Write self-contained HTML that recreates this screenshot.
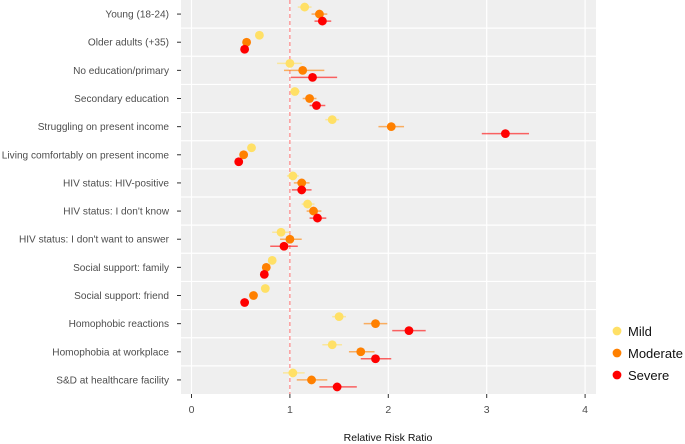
<!DOCTYPE html>
<html><head><meta charset="utf-8"><style>
body{margin:0;background:#fff;font-family:"Liberation Sans",sans-serif}
svg{display:block}
</style></head><body>
<svg id="c" width="685" height="444"></svg>
<script>
const categories=["Young (18-24)","Older adults (+35)","No education/primary","Secondary education","Struggling on present income","Living comfortably on present income","HIV status: HIV-positive","HIV status: I don't know","HIV status: I don't want to answer","Social support: family","Social support: friend","Homophobic reactions","Homophobia at workplace","S&D at healthcare facility"];
const mild=[1.15,0.69,1.0,1.05,1.43,0.61,1.03,1.18,0.91,0.82,0.75,1.50,1.43,1.03];
const mildLo=[1.08,0.69,0.87,1.0,1.36,0.61,0.97,1.12,0.82,0.82,0.75,1.43,1.33,0.93];
const mildHi=[1.22,0.69,1.12,1.1,1.5,0.61,1.09,1.25,1.0,0.82,0.75,1.57,1.53,1.15];
const moderate=[1.30,0.56,1.13,1.2,2.03,0.53,1.12,1.24,1.0,0.76,0.63,1.87,1.72,1.22];
const moderateLo=[1.22,0.56,0.94,1.13,1.9,0.53,1.04,1.17,0.9,0.76,0.63,1.75,1.6,1.07];
const moderateHi=[1.38,0.56,1.35,1.27,2.16,0.53,1.2,1.32,1.12,0.76,0.63,1.99,1.86,1.38];
const severe=[1.33,0.54,1.23,1.27,3.19,0.48,1.12,1.28,0.94,0.74,0.54,2.21,1.87,1.48];
const severeLo=[1.25,0.54,1.01,1.2,2.95,0.48,1.02,1.2,0.8,0.74,0.54,2.04,1.72,1.3];
const severeHi=[1.42,0.54,1.48,1.36,3.43,0.48,1.22,1.37,1.08,0.74,0.54,2.38,2.03,1.68];
const xTicks=[0,1,2,3,4];
const NS="http://www.w3.org/2000/svg";
const svg=document.getElementById('c');
function mk(t,a,p){const e=document.createElementNS(NS,t);for(const k in a)e.setAttribute(k,a[k]);(p||svg).appendChild(e);return e;}
const L=181,R=596,T=0,B=394;
const x=v=>191.5+v*98.4;
const rowH=(B-T)/categories.length;
const y=i=>T+rowH*(i+0.5);
const panel=mk('rect',{x:L,y:T,width:R-L,height:B-T,fill:'#efefef'});


for(let i=1;i<categories.length;i++){const g=mk('line',{x1:L,x2:R,y1:T+rowH*i,y2:T+rowH*i,stroke:'#fff','stroke-width':1.2});

}
xTicks.forEach(t=>{const g=mk('line',{x1:x(t),x2:x(t),y1:T,y2:B,stroke:'#fff','stroke-width':1.2});


const tk=mk('line',{x1:x(t),x2:x(t),y1:B,y2:B+4,stroke:'#333'});


const tl=mk('text',{x:x(t),y:B+19,'text-anchor':'middle','font-size':10.5,fill:'#4d4d4d'});tl.textContent=t;

});
const ref=mk('line',{x1:x(1),x2:x(1),y1:T,y2:B,stroke:'#ff7070','stroke-dasharray':'4,3','stroke-width':1});


categories.forEach((c,i)=>{const tk=mk('line',{x1:L-4,x2:L,y1:y(i),y2:y(i),stroke:'#333'});


const tl=mk('text',{x:L-12,y:y(i)+3.5,'text-anchor':'end','font-size':10.1,fill:'#4d4d4d'});tl.textContent=c;

});
const series=[[mild,mildLo,mildHi,'#ffe066',-7,'mild'],[moderate,moderateLo,moderateHi,'#ff8000',0,'moderate'],[severe,severeLo,severeHi,'#ff0000',7,'severe']];
series.forEach(([v,lo,hi,col,off,nm])=>{v.forEach((d,i)=>{const yy=y(i)+off;
const ln=mk('line',{x1:x(lo[i]),x2:x(hi[i]),y1:yy,y2:yy,stroke:col,'stroke-width':1.5,'stroke-opacity':0.6});


const p=mk('circle',{cx:x(d),cy:yy,r:4.4,fill:col});

});});
const xt=mk('text',{x:388,y:441,'text-anchor':'middle','font-size':10.5,fill:'#111'});xt.textContent='Relative Risk Ratio';


[['Mild','#ffe066'],['Moderate','#ff8000'],['Severe','#ff0000']].forEach(([t,c],k)=>{const yy=331+k*22;
const d=mk('circle',{cx:617,cy:yy,r:4.4,fill:c});


const tx=mk('text',{x:628,y:yy+5,'font-size':13,fill:'#111'});tx.textContent=t;

});
</script>
</body></html>
